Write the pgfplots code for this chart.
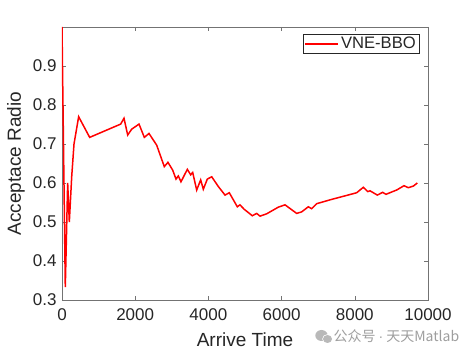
\documentclass[border=0pt]{standalone}
\usepackage{pgfplots}
\pgfplotsset{compat=1.18}
\usepackage{fontspec}
\setmainfont{Liberation Sans}
\newfontfamily\cjk{Noto Sans CJK SC}
\definecolor{axgray}{gray}{0.45}
\definecolor{txt}{gray}{0.15}
\definecolor{wm}{gray}{0.62}
\begin{document}
\begin{tikzpicture}[x=1pt,y=1pt]
\useasboundingbox (0,0) rectangle (474,355);
\begin{axis}[
  at={(62pt,55pt)}, anchor=south west,
  scale only axis, width=366pt, height=273pt,
  xmin=0, xmax=10000, ymin=0.3, ymax=1.0,
  xtick={0,2000,4000,6000,8000,10000},
  ytick={0.3,0.4,0.5,0.6,0.7,0.8,0.9},
  scaled x ticks=false,
  xticklabel style={/pgf/number format/1000 sep={}, yshift=-5pt},
  yticklabel style={/pgf/number format/fixed, /pgf/number format/precision=1, /pgf/number format/fixed zerofill, xshift=-2pt},
  /pgf/number format/assume math mode=true,
  tick label style={font=\fontsize{17}{20}\selectfont, text=txt},
  tick align=inside, major tick length=4pt,
  axis line style={axgray, line width=0.8pt},
  every tick/.style={axgray, line width=0.6pt},
  xlabel={Arrive Time}, ylabel={Acceptace Radio},
  label style={font=\fontsize{19}{22}\selectfont, text=txt},
  xlabel style={at={(axis description cs:0.5,0)}, anchor=base, yshift=-47pt},
  ylabel style={at={(axis description cs:0,0.5)}, anchor=base, yshift=41pt},
  legend style={at={(1,1)}, anchor=north east, xshift=-9pt, yshift=-7pt,
    draw=txt, line width=0.5pt, fill=white, inner sep=1pt,
    font=\fontsize{16.6}{18}\selectfont, text=txt,
    legend cell align=left},
  legend image code/.code={\draw[red, line width=1.5pt] (0pt,0pt) -- (33pt,0pt);},
]
\addplot[red, line width=1.5pt] coordinates {
(0,1.0) (90,0.333) (155,0.6) (200,0.5) (265,0.616) (328,0.70) (455,0.77)
(756,0.717) (1603,0.751) (1694,0.766) (1795,0.723) (1904,0.738) (2104,0.751)
(2249,0.717) (2377,0.727) (2587,0.697) (2795,0.642) (2895,0.653) (3024,0.633)
(3115,0.610) (3178,0.618) (3251,0.603) (3424,0.635) (3516,0.621) (3571,0.627)
(3680,0.582) (3789,0.608) (3861,0.584) (3970,0.610) (4090,0.616) (4271,0.591)
(4454,0.569) (4571,0.575) (4790,0.539) (4863,0.544) (4973,0.533) (5200,0.516)
(5320,0.522) (5410,0.515) (5592,0.521) (5910,0.538) (6093,0.544) (6413,0.522)
(6549,0.526) (6730,0.539) (6822,0.534) (6959,0.547) (7369,0.558) (7732,0.567)
(8051,0.575) (8233,0.589) (8352,0.578) (8415,0.580) (8615,0.569) (8761,0.576)
(8852,0.571) (9144,0.582) (9344,0.593) (9462,0.588) (9598,0.592) (9708,0.600)
};
\addlegendentry{VNE-BBO}
\end{axis}
% watermark
\fill[gray!55] (321.5,19.5) ellipse (6.2pt and 5.5pt);
\fill[white] (327.5,16) ellipse (5.3pt and 4.8pt);
\fill[gray!55] (327.5,16) ellipse (4.5pt and 4pt);
\node[anchor=west, inner sep=0pt, text=wm, font=\cjk\fontsize{14}{16}\selectfont] at (333.5,18.5) {公众号\hspace{3pt}{\rmfamily\fontsize{14}{16}\selectfont ·}\hspace{3pt}天天Matlab};
\end{tikzpicture}
\end{document}
